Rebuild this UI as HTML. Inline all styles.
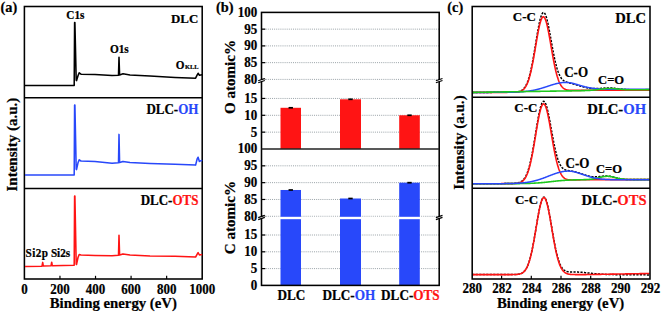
<!DOCTYPE html>
<html><head><meta charset="utf-8"><style>
html,body{margin:0;padding:0;background:#fff;width:661px;height:313px;overflow:hidden}
svg{display:block}
text{font-family:"Liberation Serif",serif;font-weight:bold;stroke-width:0.22;stroke-linejoin:round}
</style></head><body>
<svg width="661" height="313" viewBox="0 0 661 313">
<rect width="661" height="313" fill="#fff"/>
<text transform="translate(0.5,11.5) scale(1,1.05)" font-size="14.3" text-anchor="start" fill="#000" stroke="#000" >(a)</text>
<rect x="24.4" y="6.5" width="177.79999999999998" height="272.5" fill="none" stroke="#000" stroke-width="1.55"/>
<line x1="24.4" y1="97.7" x2="202.2" y2="97.7" stroke="#000" stroke-width="1.55" />
<line x1="24.4" y1="188.5" x2="202.2" y2="188.5" stroke="#000" stroke-width="1.55" />
<text transform="translate(24.4,294) scale(1,1.05)" font-size="13" text-anchor="middle" fill="#000" stroke="#000" >0</text>
<line x1="59.959999999999994" y1="279.0" x2="59.959999999999994" y2="275.8" stroke="#000" stroke-width="1.2" />
<text transform="translate(59.959999999999994,294) scale(1,1.05)" font-size="13" text-anchor="middle" fill="#000" stroke="#000" >200</text>
<line x1="95.51999999999998" y1="279.0" x2="95.51999999999998" y2="275.8" stroke="#000" stroke-width="1.2" />
<text transform="translate(95.51999999999998,294) scale(1,1.05)" font-size="13" text-anchor="middle" fill="#000" stroke="#000" >400</text>
<line x1="131.07999999999998" y1="279.0" x2="131.07999999999998" y2="275.8" stroke="#000" stroke-width="1.2" />
<text transform="translate(131.07999999999998,294) scale(1,1.05)" font-size="13" text-anchor="middle" fill="#000" stroke="#000" >600</text>
<line x1="166.64" y1="279.0" x2="166.64" y2="275.8" stroke="#000" stroke-width="1.2" />
<text transform="translate(166.64,294) scale(1,1.05)" font-size="13" text-anchor="middle" fill="#000" stroke="#000" >800</text>
<text transform="translate(202.2,294) scale(1,1.05)" font-size="13" text-anchor="middle" fill="#000" stroke="#000" >1000</text>
<text transform="translate(113.3,308.3) scale(1,1.05)" font-size="14.8" text-anchor="middle" fill="#000" stroke="#000" >Binding energy (eV)</text>
<text x="0" y="0" font-size="15" text-anchor="middle" fill="#000" stroke="#000" transform="translate(17.0,144.6) rotate(-90)">Intensity (a.u.)</text>
<path d="M25.00,85.40 L74.20,85.40 L74.60,22.40 L74.90,22.40 L76.20,80.20 L76.50,80.70 L78.00,75.80 L79.20,72.80 L81.00,74.20 L95.00,74.60 L112.00,75.60 L118.50,75.20 L119.00,57.20 L119.60,75.00 L123.00,73.80 L130.00,74.90 L150.00,76.10 L175.00,77.40 L195.60,78.20 L197.20,74.90 L198.10,73.30 L199.40,75.20 L202.20,74.70" fill="none" stroke="#000" stroke-width="1.55" stroke-linejoin="round" />
<path d="M25.00,174.90 L74.20,174.90 L74.60,105.10 L74.90,105.10 L76.20,169.10 L76.50,169.60 L78.00,162.80 L79.20,159.80 L81.00,161.00 L95.00,161.40 L112.00,163.20 L118.50,162.80 L119.00,134.40 L119.60,162.60 L123.00,161.40 L130.00,162.50 L150.00,163.40 L175.00,164.30 L195.60,165.10 L197.20,158.80 L198.10,157.20 L199.40,161.40 L202.20,160.20" fill="none" stroke="#2848fa" stroke-width="1.55" stroke-linejoin="round" />
<path d="M25.00,266.60 L42.00,266.20 L42.70,262.40 L43.30,266.00 L51.00,265.80 L51.70,262.20 L52.30,265.70 L74.20,265.20 L74.60,195.90 L74.90,195.90 L76.20,264.00 L76.50,264.50 L78.00,257.50 L79.20,254.50 L81.00,255.00 L95.00,255.40 L112.00,255.70 L118.50,255.30 L119.00,235.30 L119.60,255.10 L123.00,253.90 L130.00,255.00 L150.00,256.00 L175.00,256.20 L195.60,257.00 L197.20,254.20 L198.10,252.60 L199.40,255.00 L202.20,254.60" fill="none" stroke="#ff1414" stroke-width="1.55" stroke-linejoin="round" />
<text transform="translate(75.4,19.3) scale(1,1.1)" font-size="11.3" text-anchor="middle" fill="#000" stroke="#000" >C1s</text>
<text transform="translate(119.3,52.6) scale(1,1.05)" font-size="11.3" text-anchor="middle" fill="#000" stroke="#000" >O1s</text>
<text transform="translate(175.8,68.5) scale(1,1.05)" font-size="11.2" text-anchor="start" fill="#000" stroke="#000" >O<tspan font-size="6.4" dx="0.5">KLL</tspan></text>
<text transform="translate(198.2,23) scale(1,1.0)" font-size="12.9" text-anchor="end" fill="#000" stroke="#000" >DLC</text>
<text transform="translate(198.4,113.9) scale(1,1.05)" font-size="13" text-anchor="end" fill="#000" stroke="#000" >DLC-<tspan fill="#2848fa" stroke="#2848fa">OH</tspan></text>
<text transform="translate(198.4,204.8) scale(1,1.05)" font-size="13" text-anchor="end" fill="#000" stroke="#000" >DLC-<tspan fill="#ff1414" stroke="#ff1414">OTS</tspan></text>
<text transform="translate(25.6,257.2) scale(1,1.05)" font-size="11.2" text-anchor="start" fill="#000" stroke="#000" letter-spacing="0.4">Si2p</text>
<text transform="translate(50.9,257.2) scale(1,1.05)" font-size="11.2" text-anchor="start" fill="#000" stroke="#000" >Si2s</text>
<text transform="translate(216,11.6) scale(1,1.05)" font-size="14.4" text-anchor="start" fill="#000" stroke="#000" >(b)</text>
<line x1="261.5" y1="29.15" x2="439.2" y2="29.15" stroke="#9aa3a8" stroke-width="1.0" stroke-dasharray="1,1.1"/>
<line x1="261.5" y1="29.15" x2="265.3" y2="29.15" stroke="#000" stroke-width="1.2" />
<line x1="261.5" y1="45.9" x2="439.2" y2="45.9" stroke="#9aa3a8" stroke-width="1.0" stroke-dasharray="1,1.1"/>
<line x1="261.5" y1="45.9" x2="265.3" y2="45.9" stroke="#000" stroke-width="1.2" />
<line x1="261.5" y1="62.65" x2="439.2" y2="62.65" stroke="#9aa3a8" stroke-width="1.0" stroke-dasharray="1,1.1"/>
<line x1="261.5" y1="62.65" x2="265.3" y2="62.65" stroke="#000" stroke-width="1.2" />
<line x1="261.5" y1="79.4" x2="439.2" y2="79.4" stroke="#9aa3a8" stroke-width="1.0" stroke-dasharray="1,1.1"/>
<line x1="261.5" y1="79.4" x2="265.3" y2="79.4" stroke="#000" stroke-width="1.2" />
<line x1="261.5" y1="98.44999999999999" x2="439.2" y2="98.44999999999999" stroke="#9aa3a8" stroke-width="1.0" stroke-dasharray="1,1.1"/>
<line x1="261.5" y1="98.44999999999999" x2="265.3" y2="98.44999999999999" stroke="#000" stroke-width="1.2" />
<line x1="261.5" y1="115.3" x2="439.2" y2="115.3" stroke="#9aa3a8" stroke-width="1.0" stroke-dasharray="1,1.1"/>
<line x1="261.5" y1="115.3" x2="265.3" y2="115.3" stroke="#000" stroke-width="1.2" />
<line x1="261.5" y1="132.15" x2="439.2" y2="132.15" stroke="#9aa3a8" stroke-width="1.0" stroke-dasharray="1,1.1"/>
<line x1="261.5" y1="132.15" x2="265.3" y2="132.15" stroke="#000" stroke-width="1.2" />
<line x1="261.5" y1="165.825" x2="439.2" y2="165.825" stroke="#9aa3a8" stroke-width="1.0" stroke-dasharray="1,1.1"/>
<line x1="261.5" y1="165.825" x2="265.3" y2="165.825" stroke="#000" stroke-width="1.2" />
<line x1="261.5" y1="182.65" x2="439.2" y2="182.65" stroke="#9aa3a8" stroke-width="1.0" stroke-dasharray="1,1.1"/>
<line x1="261.5" y1="182.65" x2="265.3" y2="182.65" stroke="#000" stroke-width="1.2" />
<line x1="261.5" y1="199.475" x2="439.2" y2="199.475" stroke="#9aa3a8" stroke-width="1.0" stroke-dasharray="1,1.1"/>
<line x1="261.5" y1="199.475" x2="265.3" y2="199.475" stroke="#000" stroke-width="1.2" />
<line x1="261.5" y1="216.3" x2="439.2" y2="216.3" stroke="#9aa3a8" stroke-width="1.0" stroke-dasharray="1,1.1"/>
<line x1="261.5" y1="216.3" x2="265.3" y2="216.3" stroke="#000" stroke-width="1.2" />
<line x1="261.5" y1="234.99999999999997" x2="439.2" y2="234.99999999999997" stroke="#9aa3a8" stroke-width="1.0" stroke-dasharray="1,1.1"/>
<line x1="261.5" y1="234.99999999999997" x2="265.3" y2="234.99999999999997" stroke="#000" stroke-width="1.2" />
<line x1="261.5" y1="251.79999999999998" x2="439.2" y2="251.79999999999998" stroke="#9aa3a8" stroke-width="1.0" stroke-dasharray="1,1.1"/>
<line x1="261.5" y1="251.79999999999998" x2="265.3" y2="251.79999999999998" stroke="#000" stroke-width="1.2" />
<line x1="261.5" y1="268.59999999999997" x2="439.2" y2="268.59999999999997" stroke="#9aa3a8" stroke-width="1.0" stroke-dasharray="1,1.1"/>
<line x1="261.5" y1="268.59999999999997" x2="265.3" y2="268.59999999999997" stroke="#000" stroke-width="1.2" />
<rect x="280.5" y="107.7849" width="20.5" height="41.21510000000001" fill="#ff1414"/>
<line x1="288.55" y1="107.7849" x2="292.95" y2="107.7849" stroke="#000" stroke-width="1.7" />
<rect x="340.0" y="99.29249999999999" width="21.0" height="49.70750000000001" fill="#ff1414"/>
<line x1="348.3" y1="99.29249999999999" x2="352.7" y2="99.29249999999999" stroke="#000" stroke-width="1.7" />
<rect x="399.2" y="115.2663" width="20.600000000000023" height="33.7337" fill="#ff1414"/>
<line x1="407.3" y1="115.2663" x2="411.7" y2="115.2663" stroke="#000" stroke-width="1.7" />
<rect x="280.5" y="189.9857" width="20.5" height="95.41429999999997" fill="#2848fa"/>
<line x1="288.55" y1="189.9857" x2="292.95" y2="189.9857" stroke="#000" stroke-width="1.7" />
<rect x="340.0" y="198.49915" width="21.0" height="86.90084999999999" fill="#2848fa"/>
<line x1="348.3" y1="198.49915" x2="352.7" y2="198.49915" stroke="#000" stroke-width="1.7" />
<rect x="399.2" y="182.68365000000003" width="20.600000000000023" height="102.71634999999995" fill="#2848fa"/>
<line x1="407.3" y1="182.68365000000003" x2="411.7" y2="182.68365000000003" stroke="#000" stroke-width="1.7" />
<rect x="275" y="216.8" width="150" height="2.4" fill="#fff"/>
<rect x="261.5" y="12.4" width="177.7" height="273.0" fill="none" stroke="#000" stroke-width="1.55"/>
<line x1="261.5" y1="149.0" x2="439.2" y2="149.0" stroke="#222" stroke-width="1.6" />
<polygon points="258.3,82.50000000000001 264.7,80.30000000000001 264.7,78.7 258.3,80.9" fill="#fff"/>
<line x1="258.2" y1="80.7" x2="264.8" y2="78.50000000000001" stroke="#000" stroke-width="1.2" />
<line x1="258.2" y1="82.7" x2="264.8" y2="80.50000000000001" stroke="#000" stroke-width="1.2" />
<polygon points="436.0,82.50000000000001 442.4,80.30000000000001 442.4,78.7 436.0,80.9" fill="#fff"/>
<line x1="435.9" y1="80.7" x2="442.5" y2="78.50000000000001" stroke="#000" stroke-width="1.2" />
<line x1="435.9" y1="82.7" x2="442.5" y2="80.50000000000001" stroke="#000" stroke-width="1.2" />
<polygon points="258.3,219.4 264.7,217.2 264.7,215.6 258.3,217.8" fill="#fff"/>
<line x1="258.2" y1="217.6" x2="264.8" y2="215.4" stroke="#000" stroke-width="1.2" />
<line x1="258.2" y1="219.6" x2="264.8" y2="217.4" stroke="#000" stroke-width="1.2" />
<polygon points="436.0,219.4 442.4,217.2 442.4,215.6 436.0,217.8" fill="#fff"/>
<line x1="435.9" y1="217.6" x2="442.5" y2="215.4" stroke="#000" stroke-width="1.2" />
<line x1="435.9" y1="219.6" x2="442.5" y2="217.4" stroke="#000" stroke-width="1.2" />
<text transform="translate(257.3,16.8) scale(1,1.05)" font-size="13" text-anchor="end" fill="#000" stroke="#000" >100</text>
<text transform="translate(257.3,33.55) scale(1,1.05)" font-size="13" text-anchor="end" fill="#000" stroke="#000" >95</text>
<text transform="translate(257.3,50.3) scale(1,1.05)" font-size="13" text-anchor="end" fill="#000" stroke="#000" >90</text>
<text transform="translate(257.3,67.05) scale(1,1.05)" font-size="13" text-anchor="end" fill="#000" stroke="#000" >85</text>
<text transform="translate(257.3,83.80000000000001) scale(1,1.05)" font-size="13" text-anchor="end" fill="#000" stroke="#000" >80</text>
<text transform="translate(257.3,102.85) scale(1,1.05)" font-size="13" text-anchor="end" fill="#000" stroke="#000" >15</text>
<text transform="translate(257.3,119.7) scale(1,1.05)" font-size="13" text-anchor="end" fill="#000" stroke="#000" >10</text>
<text transform="translate(257.3,136.55) scale(1,1.05)" font-size="13" text-anchor="end" fill="#000" stroke="#000" >5</text>
<text transform="translate(257.3,153.4) scale(1,1.05)" font-size="13" text-anchor="end" fill="#000" stroke="#000" >100</text>
<text transform="translate(257.3,170.225) scale(1,1.05)" font-size="13" text-anchor="end" fill="#000" stroke="#000" >95</text>
<text transform="translate(257.3,187.05) scale(1,1.05)" font-size="13" text-anchor="end" fill="#000" stroke="#000" >90</text>
<text transform="translate(257.3,203.875) scale(1,1.05)" font-size="13" text-anchor="end" fill="#000" stroke="#000" >85</text>
<text transform="translate(257.3,220.70000000000002) scale(1,1.05)" font-size="13" text-anchor="end" fill="#000" stroke="#000" >80</text>
<text transform="translate(257.3,239.39999999999998) scale(1,1.05)" font-size="13" text-anchor="end" fill="#000" stroke="#000" >15</text>
<text transform="translate(257.3,256.2) scale(1,1.05)" font-size="13" text-anchor="end" fill="#000" stroke="#000" >10</text>
<text transform="translate(257.3,272.99999999999994) scale(1,1.05)" font-size="13" text-anchor="end" fill="#000" stroke="#000" >5</text>
<text transform="translate(257.3,289.79999999999995) scale(1,1.05)" font-size="13" text-anchor="end" fill="#000" stroke="#000" >0</text>
<text x="0" y="0" font-size="15.1" text-anchor="middle" fill="#000" stroke="#000" transform="translate(235.2,77) rotate(-90)">O atomic%</text>
<text x="0" y="0" font-size="15.1" text-anchor="middle" fill="#000" stroke="#000" transform="translate(235.2,217.6) rotate(-90)">C atomic%</text>
<text transform="translate(291.4,300.0) scale(1,1.03)" font-size="13.2" text-anchor="middle" fill="#000" stroke="#000" >DLC</text>
<text transform="translate(348.8,300.0) scale(1,1.03)" font-size="13.2" text-anchor="middle" fill="#000" stroke="#000" >DLC-<tspan fill="#2848fa" stroke="#2848fa">OH</tspan></text>
<text transform="translate(410.4,300.0) scale(1,1.03)" font-size="13.2" text-anchor="middle" fill="#000" stroke="#000" >DLC-<tspan fill="#ff1414" stroke="#ff1414">OTS</tspan></text>
<text transform="translate(447.3,12.1) scale(1,1.05)" font-size="14.3" text-anchor="start" fill="#000" stroke="#000" >(c)</text>
<text transform="translate(472.29999999999995,293.4) scale(1,1.05)" font-size="13" text-anchor="middle" fill="#000" stroke="#000" >280</text>
<line x1="501.59999999999997" y1="279.0" x2="501.59999999999997" y2="275.8" stroke="#000" stroke-width="1.2" />
<text transform="translate(501.99999999999994,293.4) scale(1,1.05)" font-size="13" text-anchor="middle" fill="#000" stroke="#000" >282</text>
<line x1="531.3" y1="279.0" x2="531.3" y2="275.8" stroke="#000" stroke-width="1.2" />
<text transform="translate(531.6999999999999,293.4) scale(1,1.05)" font-size="13" text-anchor="middle" fill="#000" stroke="#000" >284</text>
<line x1="561.0" y1="279.0" x2="561.0" y2="275.8" stroke="#000" stroke-width="1.2" />
<text transform="translate(561.4,293.4) scale(1,1.05)" font-size="13" text-anchor="middle" fill="#000" stroke="#000" >286</text>
<line x1="590.6999999999999" y1="279.0" x2="590.6999999999999" y2="275.8" stroke="#000" stroke-width="1.2" />
<text transform="translate(591.0999999999999,293.4) scale(1,1.05)" font-size="13" text-anchor="middle" fill="#000" stroke="#000" >288</text>
<line x1="620.4" y1="279.0" x2="620.4" y2="275.8" stroke="#000" stroke-width="1.2" />
<text transform="translate(620.8,293.4) scale(1,1.05)" font-size="13" text-anchor="middle" fill="#000" stroke="#000" >290</text>
<text transform="translate(650.4999999999999,293.4) scale(1,1.05)" font-size="13" text-anchor="middle" fill="#000" stroke="#000" >292</text>
<text transform="translate(560.6,307.8) scale(1,1.05)" font-size="14.8" text-anchor="middle" fill="#000" stroke="#000" >Binding energy (eV)</text>
<text x="0" y="0" font-size="15.1" text-anchor="middle" fill="#000" stroke="#000" transform="translate(464.3,142.5) rotate(-90)">Intensity (a.u.)</text>
<path d="M472.20,92.40 L472.70,92.40 L473.20,92.39 L473.70,92.39 L474.20,92.39 L474.70,92.39 L475.20,92.39 L475.70,92.39 L476.20,92.39 L476.70,92.39 L477.20,92.39 L477.70,92.39 L478.20,92.39 L478.70,92.39 L479.20,92.39 L479.70,92.39 L480.20,92.39 L480.70,92.39 L481.20,92.39 L481.70,92.39 L482.20,92.39 L482.70,92.39 L483.20,92.39 L483.70,92.39 L484.20,92.39 L484.70,92.39 L485.20,92.39 L485.70,92.39 L486.20,92.38 L486.70,92.38 L487.20,92.38 L487.70,92.38 L488.20,92.38 L488.70,92.38 L489.20,92.38 L489.70,92.38 L490.20,92.38 L490.70,92.38 L491.20,92.38 L491.70,92.38 L492.20,92.37 L492.70,92.37 L493.20,92.37 L493.70,92.37 L494.20,92.37 L494.70,92.37 L495.20,92.37 L495.70,92.37 L496.20,92.36 L496.70,92.36 L497.20,92.36 L497.70,92.36 L498.20,92.36 L498.70,92.35 L499.20,92.35 L499.70,92.35 L500.20,92.35 L500.70,92.34 L501.20,92.34 L501.70,92.34 L502.20,92.33 L502.70,92.33 L503.20,92.33 L503.70,92.32 L504.20,92.32 L504.70,92.32 L505.20,92.31 L505.70,92.31 L506.20,92.30 L506.70,92.29 L507.20,92.29 L507.70,92.28 L508.20,92.27 L508.70,92.27 L509.20,92.26 L509.70,92.25 L510.20,92.24 L510.70,92.23 L511.20,92.21 L511.70,92.20 L512.20,92.18 L512.70,92.16 L513.20,92.14 L513.70,92.12 L514.20,92.09 L514.70,92.06 L515.20,92.02 L515.70,91.98 L516.20,91.93 L516.70,91.87 L517.20,91.80 L517.70,91.72 L518.20,91.62 L518.70,91.51 L519.20,91.37 L519.70,91.22 L520.20,91.04 L520.70,90.83 L521.20,90.58 L521.70,90.30 L522.20,89.97 L522.70,89.59 L523.20,89.15 L523.70,88.65 L524.20,88.08 L524.70,87.43 L525.20,86.70 L525.70,85.87 L526.20,84.94 L526.70,83.90 L527.20,82.75 L527.70,81.48 L528.20,80.07 L528.70,78.53 L529.20,76.86 L529.70,75.04 L530.20,73.07 L530.70,70.96 L531.20,68.72 L531.70,66.33 L532.20,63.81 L532.70,61.17 L533.20,58.41 L533.70,55.56 L534.20,52.62 L534.70,49.62 L535.20,46.57 L535.70,43.50 L536.20,40.43 L536.70,37.39 L537.20,34.41 L537.70,31.51 L538.20,28.72 L538.70,26.08 L539.20,23.60 L539.70,21.31 L540.20,19.24 L540.70,17.42 L541.20,15.86 L541.70,14.58 L542.20,13.59 L542.70,12.91 L543.20,12.54 L543.70,12.48 L544.20,12.74 L544.70,13.30 L545.20,14.17 L545.70,15.32 L546.20,16.75 L546.70,18.42 L547.20,20.33 L547.70,22.45 L548.20,24.75 L548.70,27.20 L549.20,29.78 L549.70,32.45 L550.20,35.20 L550.70,37.99 L551.20,40.80 L551.70,43.61 L552.20,46.38 L552.70,49.10 L553.20,51.75 L553.70,54.32 L554.20,56.78 L554.70,59.13 L555.20,61.36 L555.70,63.46 L556.20,65.43 L556.70,67.26 L557.20,68.95 L557.70,70.51 L558.20,71.94 L558.70,73.24 L559.20,74.42 L559.70,75.48 L560.20,76.43 L560.70,77.28 L561.20,78.03 L561.70,78.70 L562.20,79.28 L562.70,79.80 L563.20,80.25 L563.70,80.64 L564.20,80.98 L564.70,81.28 L565.20,81.54 L565.70,81.77 L566.20,81.97 L566.70,82.16 L567.20,82.33 L567.70,82.48 L568.20,82.63 L568.70,82.77 L569.20,82.90 L569.70,83.03 L570.20,83.16 L570.70,83.28 L571.20,83.41 L571.70,83.54 L572.20,83.67 L572.70,83.80 L573.20,83.93 L573.70,84.07 L574.20,84.21 L574.70,84.35 L575.20,84.50 L575.70,84.65 L576.20,84.79 L576.70,84.94 L577.20,85.10 L577.70,85.25 L578.20,85.40 L578.70,85.55 L579.20,85.71 L579.70,85.86 L580.20,86.01 L580.70,86.16 L581.20,86.30 L581.70,86.45 L582.20,86.59 L582.70,86.73 L583.20,86.87 L583.70,87.00 L584.20,87.13 L584.70,87.26 L585.20,87.38 L585.70,87.49 L586.20,87.60 L586.70,87.71 L587.20,87.81 L587.70,87.91 L588.20,88.00 L588.70,88.08 L589.20,88.16 L589.70,88.23 L590.20,88.30 L590.70,88.36 L591.20,88.41 L591.70,88.46 L592.20,88.50 L592.70,88.54 L593.20,88.57 L593.70,88.59 L594.20,88.61 L594.70,88.62 L595.20,88.63 L595.70,88.63 L596.20,88.62 L596.70,88.61 L597.20,88.60 L597.70,88.58 L598.20,88.55 L598.70,88.53 L599.20,88.50 L599.70,88.47 L600.20,88.43 L600.70,88.39 L601.20,88.36 L601.70,88.32 L602.20,88.28 L602.70,88.24 L603.20,88.20 L603.70,88.16 L604.20,88.13 L604.70,88.10 L605.20,88.07 L605.70,88.04 L606.20,88.02 L606.70,88.00 L607.20,87.98 L607.70,87.97 L608.20,87.97 L608.70,87.97 L609.20,87.97 L609.70,87.98 L610.20,87.99 L610.70,88.01 L611.20,88.04 L611.70,88.07 L612.20,88.10 L612.70,88.14 L613.20,88.18 L613.70,88.22 L614.20,88.27 L614.70,88.33 L615.20,88.38 L615.70,88.44 L616.20,88.49 L616.70,88.55 L617.20,88.61 L617.70,88.67 L618.20,88.74 L618.70,88.80 L619.20,88.86 L619.70,88.92 L620.20,88.97 L620.70,89.03 L621.20,89.09 L621.70,89.14 L622.20,89.19 L622.70,89.24 L623.20,89.29 L623.70,89.33 L624.20,89.37 L624.70,89.41 L625.20,89.45 L625.70,89.48 L626.20,89.51 L626.70,89.54 L627.20,89.57 L627.70,89.60 L628.20,89.62 L628.70,89.64 L629.20,89.66 L629.70,89.67 L630.20,89.69 L630.70,89.70 L631.20,89.72 L631.70,89.73 L632.20,89.74 L632.70,89.75 L633.20,89.75 L633.70,89.76 L634.20,89.77 L634.70,89.77 L635.20,89.78 L635.70,89.78 L636.20,89.78 L636.70,89.79 L637.20,89.79 L637.70,89.79 L638.20,89.79 L638.70,89.79 L639.20,89.79 L639.70,89.80 L640.20,89.80 L640.70,89.80 L641.20,89.80 L641.70,89.80 L642.20,89.80 L642.70,89.80 L643.20,89.80 L643.70,89.80 L644.20,89.80 L644.70,89.80 L645.20,89.80 L645.70,89.80 L646.20,89.80 L646.70,89.80 L647.20,89.80 L647.70,89.80 L648.20,89.80 L648.70,89.80 L649.20,89.80 L649.70,89.80" fill="none" stroke="#000" stroke-width="1.5" stroke-linejoin="round" stroke-dasharray="2.2,1.3"/>
<path d="M472.20,92.40 L472.70,92.40 L473.20,92.40 L473.70,92.40 L474.20,92.40 L474.70,92.40 L475.20,92.39 L475.70,92.39 L476.20,92.39 L476.70,92.39 L477.20,92.39 L477.70,92.39 L478.20,92.39 L478.70,92.39 L479.20,92.39 L479.70,92.39 L480.20,92.39 L480.70,92.39 L481.20,92.39 L481.70,92.39 L482.20,92.39 L482.70,92.39 L483.20,92.39 L483.70,92.39 L484.20,92.39 L484.70,92.39 L485.20,92.39 L485.70,92.39 L486.20,92.39 L486.70,92.39 L487.20,92.39 L487.70,92.39 L488.20,92.39 L488.70,92.38 L489.20,92.38 L489.70,92.38 L490.20,92.38 L490.70,92.38 L491.20,92.38 L491.70,92.38 L492.20,92.38 L492.70,92.38 L493.20,92.38 L493.70,92.38 L494.20,92.38 L494.70,92.37 L495.20,92.37 L495.70,92.37 L496.20,92.37 L496.70,92.37 L497.20,92.37 L497.70,92.37 L498.20,92.37 L498.70,92.36 L499.20,92.36 L499.70,92.36 L500.20,92.36 L500.70,92.36 L501.20,92.36 L501.70,92.35 L502.20,92.35 L502.70,92.35 L503.20,92.35 L503.70,92.35 L504.20,92.34 L504.70,92.34 L505.20,92.34 L505.70,92.34 L506.20,92.33 L506.70,92.33 L507.20,92.33 L507.70,92.32 L508.20,92.32 L508.70,92.32 L509.20,92.31 L509.70,92.31 L510.20,92.30 L510.70,92.30 L511.20,92.29 L511.70,92.28 L512.20,92.27 L512.70,92.26 L513.20,92.25 L513.70,92.23 L514.20,92.22 L514.70,92.20 L515.20,92.17 L515.70,92.14 L516.20,92.10 L516.70,92.06 L517.20,92.00 L517.70,91.94 L518.20,91.86 L518.70,91.77 L519.20,91.66 L519.70,91.53 L520.20,91.37 L520.70,91.19 L521.20,90.97 L521.70,90.72 L522.20,90.42 L522.70,90.08 L523.20,89.68 L523.70,89.21 L524.20,88.69 L524.70,88.08 L525.20,87.40 L525.70,86.62 L526.20,85.74 L526.70,84.76 L527.20,83.67 L527.70,82.46 L528.20,81.12 L528.70,79.65 L529.20,78.04 L529.70,76.30 L530.20,74.41 L530.70,72.38 L531.20,70.22 L531.70,67.92 L532.20,65.49 L532.70,62.94 L533.20,60.28 L533.70,57.52 L534.20,54.69 L534.70,51.79 L535.20,48.85 L535.70,45.89 L536.20,42.94 L536.70,40.01 L537.20,37.15 L537.70,34.36 L538.20,31.70 L538.70,29.17 L539.20,26.81 L539.70,24.65 L540.20,22.71 L540.70,21.02 L541.20,19.58 L541.70,18.43 L542.20,17.57 L542.70,17.01 L543.20,16.77 L543.70,16.84 L544.20,17.23 L544.70,17.92 L545.20,18.92 L545.70,20.20 L546.20,21.75 L546.70,23.55 L547.20,25.58 L547.70,27.82 L548.20,30.24 L548.70,32.81 L549.20,35.51 L549.70,38.30 L550.20,41.17 L550.70,44.07 L551.20,46.99 L551.70,49.90 L552.20,52.78 L552.70,55.61 L553.20,58.36 L553.70,61.02 L554.20,63.58 L554.70,66.02 L555.20,68.33 L555.70,70.52 L556.20,72.57 L556.70,74.47 L557.20,76.24 L557.70,77.87 L558.20,79.36 L558.70,80.72 L559.20,81.96 L559.70,83.07 L560.20,84.06 L560.70,84.95 L561.20,85.74 L561.70,86.43 L562.20,87.04 L562.70,87.57 L563.20,88.03 L563.70,88.43 L564.20,88.77 L564.70,89.07 L565.20,89.31 L565.70,89.52 L566.20,89.70 L566.70,89.84 L567.20,89.96 L567.70,90.06 L568.20,90.14 L568.70,90.21 L569.20,90.26 L569.70,90.30 L570.20,90.33 L570.70,90.36 L571.20,90.37 L571.70,90.38 L572.20,90.39 L572.70,90.40 L573.20,90.40 L573.70,90.40 L574.20,90.40 L574.70,90.40 L575.20,90.39 L575.70,90.39 L576.20,90.38 L576.70,90.38 L577.20,90.37 L577.70,90.37 L578.20,90.36 L578.70,90.36 L579.20,90.35 L579.70,90.35 L580.20,90.34 L580.70,90.33 L581.20,90.33 L581.70,90.32 L582.20,90.32 L582.70,90.32 L583.20,90.31 L583.70,90.31 L584.20,90.30 L584.70,90.30 L585.20,90.29 L585.70,90.29 L586.20,90.29 L586.70,90.28 L587.20,90.28 L587.70,90.28 L588.20,90.27 L588.70,90.27 L589.20,90.27 L589.70,90.27 L590.20,90.26 L590.70,90.26 L591.20,90.26 L591.70,90.26 L592.20,90.25 L592.70,90.25 L593.20,90.25 L593.70,90.25 L594.20,90.25 L594.70,90.24 L595.20,90.24 L595.70,90.24 L596.20,90.24 L596.70,90.24 L597.20,90.24 L597.70,90.23 L598.20,90.23 L598.70,90.23 L599.20,90.23 L599.70,90.23 L600.20,90.23 L600.70,90.23 L601.20,90.23 L601.70,90.22 L602.20,90.22 L602.70,90.22 L603.20,90.22 L603.70,90.22 L604.20,90.22 L604.70,90.22 L605.20,90.22 L605.70,90.22 L606.20,90.22 L606.70,90.22 L607.20,90.22 L607.70,90.22 L608.20,90.21 L608.70,90.21 L609.20,90.21 L609.70,90.21 L610.20,90.21 L610.70,90.21 L611.20,90.21 L611.70,90.21 L612.20,90.21 L612.70,90.21 L613.20,90.21 L613.70,90.21 L614.20,90.21 L614.70,90.21 L615.20,90.21 L615.70,90.21 L616.20,90.21 L616.70,90.21 L617.20,90.21 L617.70,90.21 L618.20,90.21 L618.70,90.21 L619.20,90.21 L619.70,90.21 L620.20,90.21 L620.70,90.21 L621.20,90.20 L621.70,90.20 L622.20,90.20 L622.70,90.20 L623.20,90.20 L623.70,90.20 L624.20,90.20 L624.70,90.20 L625.20,90.20 L625.70,90.20 L626.20,90.20 L626.70,90.20 L627.20,90.20 L627.70,90.20 L628.20,90.20 L628.70,90.20 L629.20,90.20 L629.70,90.20 L630.20,90.20 L630.70,90.20 L631.20,90.20 L631.70,90.20 L632.20,90.20 L632.70,90.20 L633.20,90.20 L633.70,90.20 L634.20,90.20 L634.70,90.20 L635.20,90.20 L635.70,90.20 L636.20,90.20 L636.70,90.20 L637.20,90.20 L637.70,90.20 L638.20,90.20 L638.70,90.20 L639.20,90.20 L639.70,90.20 L640.20,90.20 L640.70,90.20 L641.20,90.20 L641.70,90.20 L642.20,90.20 L642.70,90.20 L643.20,90.20 L643.70,90.20 L644.20,90.20 L644.70,90.20 L645.20,90.20 L645.70,90.20 L646.20,90.20 L646.70,90.20 L647.20,90.20 L647.70,90.20 L648.20,90.20 L648.70,90.20 L649.20,90.20 L649.70,90.20" fill="none" stroke="#ff1414" stroke-width="1.6" stroke-linejoin="round" />
<path d="M472.20,92.39 L472.70,92.39 L473.20,92.39 L473.70,92.39 L474.20,92.39 L474.70,92.39 L475.20,92.39 L475.70,92.39 L476.20,92.39 L476.70,92.39 L477.20,92.39 L477.70,92.39 L478.20,92.39 L478.70,92.39 L479.20,92.39 L479.70,92.39 L480.20,92.39 L480.70,92.39 L481.20,92.39 L481.70,92.39 L482.20,92.39 L482.70,92.39 L483.20,92.39 L483.70,92.38 L484.20,92.38 L484.70,92.38 L485.20,92.38 L485.70,92.38 L486.20,92.38 L486.70,92.38 L487.20,92.38 L487.70,92.38 L488.20,92.38 L488.70,92.38 L489.20,92.38 L489.70,92.37 L490.20,92.37 L490.70,92.37 L491.20,92.37 L491.70,92.37 L492.20,92.37 L492.70,92.37 L493.20,92.37 L493.70,92.36 L494.20,92.36 L494.70,92.36 L495.20,92.36 L495.70,92.36 L496.20,92.36 L496.70,92.35 L497.20,92.35 L497.70,92.35 L498.20,92.35 L498.70,92.34 L499.20,92.34 L499.70,92.34 L500.20,92.34 L500.70,92.33 L501.20,92.33 L501.70,92.33 L502.20,92.32 L502.70,92.32 L503.20,92.31 L503.70,92.31 L504.20,92.31 L504.70,92.30 L505.20,92.30 L505.70,92.29 L506.20,92.28 L506.70,92.28 L507.20,92.27 L507.70,92.26 L508.20,92.26 L508.70,92.25 L509.20,92.24 L509.70,92.23 L510.20,92.22 L510.70,92.21 L511.20,92.20 L511.70,92.19 L512.20,92.18 L512.70,92.17 L513.20,92.16 L513.70,92.14 L514.20,92.13 L514.70,92.11 L515.20,92.09 L515.70,92.08 L516.20,92.06 L516.70,92.04 L517.20,92.02 L517.70,92.00 L518.20,91.97 L518.70,91.95 L519.20,91.92 L519.70,91.89 L520.20,91.86 L520.70,91.83 L521.20,91.80 L521.70,91.77 L522.20,91.73 L522.70,91.69 L523.20,91.65 L523.70,91.61 L524.20,91.57 L524.70,91.52 L525.20,91.47 L525.70,91.42 L526.20,91.37 L526.70,91.31 L527.20,91.25 L527.70,91.19 L528.20,91.13 L528.70,91.06 L529.20,90.99 L529.70,90.92 L530.20,90.84 L530.70,90.76 L531.20,90.68 L531.70,90.60 L532.20,90.51 L532.70,90.41 L533.20,90.32 L533.70,90.22 L534.20,90.12 L534.70,90.01 L535.20,89.91 L535.70,89.79 L536.20,89.68 L536.70,89.56 L537.20,89.44 L537.70,89.31 L538.20,89.18 L538.70,89.05 L539.20,88.92 L539.70,88.78 L540.20,88.64 L540.70,88.49 L541.20,88.35 L541.70,88.20 L542.20,88.05 L542.70,87.90 L543.20,87.74 L543.70,87.58 L544.20,87.42 L544.70,87.26 L545.20,87.10 L545.70,86.94 L546.20,86.77 L546.70,86.61 L547.20,86.44 L547.70,86.28 L548.20,86.11 L548.70,85.95 L549.20,85.78 L549.70,85.62 L550.20,85.46 L550.70,85.30 L551.20,85.14 L551.70,84.98 L552.20,84.83 L552.70,84.67 L553.20,84.53 L553.70,84.38 L554.20,84.24 L554.70,84.10 L555.20,83.96 L555.70,83.83 L556.20,83.71 L556.70,83.58 L557.20,83.47 L557.70,83.36 L558.20,83.25 L558.70,83.15 L559.20,83.05 L559.70,82.97 L560.20,82.88 L560.70,82.81 L561.20,82.74 L561.70,82.67 L562.20,82.62 L562.70,82.57 L563.20,82.53 L563.70,82.49 L564.20,82.46 L564.70,82.44 L565.20,82.43 L565.70,82.42 L566.20,82.43 L566.70,82.45 L567.20,82.47 L567.70,82.51 L568.20,82.56 L568.70,82.61 L569.20,82.67 L569.70,82.74 L570.20,82.82 L570.70,82.91 L571.20,83.01 L571.70,83.11 L572.20,83.21 L572.70,83.33 L573.20,83.45 L573.70,83.57 L574.20,83.70 L574.70,83.84 L575.20,83.97 L575.70,84.12 L576.20,84.26 L576.70,84.41 L577.20,84.55 L577.70,84.70 L578.20,84.85 L578.70,85.01 L579.20,85.16 L579.70,85.31 L580.20,85.46 L580.70,85.61 L581.20,85.76 L581.70,85.90 L582.20,86.05 L582.70,86.19 L583.20,86.33 L583.70,86.47 L584.20,86.60 L584.70,86.73 L585.20,86.86 L585.70,86.98 L586.20,87.10 L586.70,87.22 L587.20,87.33 L587.70,87.44 L588.20,87.54 L588.70,87.64 L589.20,87.74 L589.70,87.83 L590.20,87.92 L590.70,88.00 L591.20,88.08 L591.70,88.16 L592.20,88.23 L592.70,88.30 L593.20,88.37 L593.70,88.43 L594.20,88.49 L594.70,88.54 L595.20,88.59 L595.70,88.64 L596.20,88.69 L596.70,88.73 L597.20,88.77 L597.70,88.81 L598.20,88.84 L598.70,88.87 L599.20,88.90 L599.70,88.93 L600.20,88.95 L600.70,88.98 L601.20,89.00 L601.70,89.02 L602.20,89.04 L602.70,89.05 L603.20,89.07 L603.70,89.08 L604.20,89.10 L604.70,89.11 L605.20,89.12 L605.70,89.13 L606.20,89.14 L606.70,89.15 L607.20,89.15 L607.70,89.16 L608.20,89.16 L608.70,89.17 L609.20,89.17 L609.70,89.18 L610.20,89.18 L610.70,89.19 L611.20,89.19 L611.70,89.19 L612.20,89.19 L612.70,89.19 L613.20,89.20 L613.70,89.20 L614.20,89.20 L614.70,89.20 L615.20,89.20 L615.70,89.20 L616.20,89.20 L616.70,89.20 L617.20,89.20 L617.70,89.20 L618.20,89.20 L618.70,89.20 L619.20,89.20 L619.70,89.20 L620.20,89.21 L620.70,89.21 L621.20,89.21 L621.70,89.21 L622.20,89.21 L622.70,89.21 L623.20,89.20 L623.70,89.20 L624.20,89.20 L624.70,89.20 L625.20,89.20 L625.70,89.20 L626.20,89.20 L626.70,89.20 L627.20,89.20 L627.70,89.20 L628.20,89.20 L628.70,89.20 L629.20,89.20 L629.70,89.20 L630.20,89.20 L630.70,89.20 L631.20,89.20 L631.70,89.20 L632.20,89.20 L632.70,89.20 L633.20,89.20 L633.70,89.20 L634.20,89.20 L634.70,89.20 L635.20,89.20 L635.70,89.20 L636.20,89.20 L636.70,89.20 L637.20,89.20 L637.70,89.20 L638.20,89.20 L638.70,89.20 L639.20,89.20 L639.70,89.20 L640.20,89.20 L640.70,89.20 L641.20,89.20 L641.70,89.20 L642.20,89.20 L642.70,89.20 L643.20,89.20 L643.70,89.20 L644.20,89.20 L644.70,89.20 L645.20,89.20 L645.70,89.20 L646.20,89.20 L646.70,89.20 L647.20,89.20 L647.70,89.20 L648.20,89.20 L648.70,89.20 L649.20,89.20 L649.70,89.20" fill="none" stroke="#2848fa" stroke-width="1.5" stroke-linejoin="round" />
<path d="M472.20,92.40 L472.70,92.39 L473.20,92.38 L473.70,92.38 L474.20,92.37 L474.70,92.36 L475.20,92.35 L475.70,92.34 L476.20,92.34 L476.70,92.33 L477.20,92.32 L477.70,92.31 L478.20,92.31 L478.70,92.30 L479.20,92.29 L479.70,92.28 L480.20,92.27 L480.70,92.27 L481.20,92.26 L481.70,92.25 L482.20,92.24 L482.70,92.23 L483.20,92.23 L483.70,92.22 L484.20,92.21 L484.70,92.20 L485.20,92.20 L485.70,92.19 L486.20,92.18 L486.70,92.17 L487.20,92.16 L487.70,92.16 L488.20,92.15 L488.70,92.14 L489.20,92.13 L489.70,92.12 L490.20,92.12 L490.70,92.11 L491.20,92.10 L491.70,92.09 L492.20,92.09 L492.70,92.08 L493.20,92.07 L493.70,92.06 L494.20,92.05 L494.70,92.05 L495.20,92.04 L495.70,92.03 L496.20,92.02 L496.70,92.01 L497.20,92.01 L497.70,92.00 L498.20,91.99 L498.70,91.98 L499.20,91.97 L499.70,91.97 L500.20,91.96 L500.70,91.95 L501.20,91.94 L501.70,91.94 L502.20,91.93 L502.70,91.92 L503.20,91.91 L503.70,91.90 L504.20,91.90 L504.70,91.89 L505.20,91.88 L505.70,91.87 L506.20,91.86 L506.70,91.86 L507.20,91.85 L507.70,91.84 L508.20,91.83 L508.70,91.83 L509.20,91.82 L509.70,91.81 L510.20,91.80 L510.70,91.79 L511.20,91.79 L511.70,91.78 L512.20,91.77 L512.70,91.76 L513.20,91.75 L513.70,91.75 L514.20,91.74 L514.70,91.73 L515.20,91.72 L515.70,91.71 L516.20,91.71 L516.70,91.70 L517.20,91.69 L517.70,91.68 L518.20,91.68 L518.70,91.67 L519.20,91.66 L519.70,91.65 L520.20,91.64 L520.70,91.64 L521.20,91.63 L521.70,91.62 L522.20,91.61 L522.70,91.60 L523.20,91.60 L523.70,91.59 L524.20,91.58 L524.70,91.57 L525.20,91.57 L525.70,91.56 L526.20,91.55 L526.70,91.54 L527.20,91.53 L527.70,91.53 L528.20,91.52 L528.70,91.51 L529.20,91.50 L529.70,91.49 L530.20,91.49 L530.70,91.48 L531.20,91.47 L531.70,91.46 L532.20,91.46 L532.70,91.45 L533.20,91.44 L533.70,91.43 L534.20,91.42 L534.70,91.42 L535.20,91.41 L535.70,91.40 L536.20,91.39 L536.70,91.38 L537.20,91.38 L537.70,91.37 L538.20,91.36 L538.70,91.35 L539.20,91.34 L539.70,91.34 L540.20,91.33 L540.70,91.32 L541.20,91.31 L541.70,91.31 L542.20,91.30 L542.70,91.29 L543.20,91.28 L543.70,91.27 L544.20,91.27 L544.70,91.26 L545.20,91.25 L545.70,91.24 L546.20,91.23 L546.70,91.23 L547.20,91.22 L547.70,91.21 L548.20,91.20 L548.70,91.20 L549.20,91.19 L549.70,91.18 L550.20,91.17 L550.70,91.16 L551.20,91.16 L551.70,91.15 L552.20,91.14 L552.70,91.13 L553.20,91.12 L553.70,91.12 L554.20,91.11 L554.70,91.10 L555.20,91.09 L555.70,91.09 L556.20,91.08 L556.70,91.07 L557.20,91.06 L557.70,91.05 L558.20,91.05 L558.70,91.04 L559.20,91.03 L559.70,91.02 L560.20,91.01 L560.70,91.01 L561.20,91.00 L561.70,90.99 L562.20,90.98 L562.70,90.97 L563.20,90.97 L563.70,90.96 L564.20,90.95 L564.70,90.94 L565.20,90.94 L565.70,90.93 L566.20,90.92 L566.70,90.91 L567.20,90.90 L567.70,90.90 L568.20,90.89 L568.70,90.88 L569.20,90.87 L569.70,90.86 L570.20,90.86 L570.70,90.85 L571.20,90.84 L571.70,90.83 L572.20,90.82 L572.70,90.82 L573.20,90.81 L573.70,90.80 L574.20,90.79 L574.70,90.78 L575.20,90.78 L575.70,90.77 L576.20,90.76 L576.70,90.75 L577.20,90.74 L577.70,90.73 L578.20,90.73 L578.70,90.72 L579.20,90.71 L579.70,90.70 L580.20,90.69 L580.70,90.68 L581.20,90.67 L581.70,90.66 L582.20,90.65 L582.70,90.63 L583.20,90.62 L583.70,90.61 L584.20,90.60 L584.70,90.58 L585.20,90.57 L585.70,90.55 L586.20,90.53 L586.70,90.51 L587.20,90.49 L587.70,90.47 L588.20,90.45 L588.70,90.42 L589.20,90.40 L589.70,90.37 L590.20,90.34 L590.70,90.31 L591.20,90.27 L591.70,90.23 L592.20,90.20 L592.70,90.15 L593.20,90.11 L593.70,90.06 L594.20,90.01 L594.70,89.96 L595.20,89.91 L595.70,89.85 L596.20,89.79 L596.70,89.73 L597.20,89.67 L597.70,89.61 L598.20,89.54 L598.70,89.47 L599.20,89.41 L599.70,89.34 L600.20,89.27 L600.70,89.20 L601.20,89.13 L601.70,89.07 L602.20,89.00 L602.70,88.94 L603.20,88.87 L603.70,88.82 L604.20,88.76 L604.70,88.71 L605.20,88.66 L605.70,88.61 L606.20,88.57 L606.70,88.54 L607.20,88.51 L607.70,88.48 L608.20,88.47 L608.70,88.45 L609.20,88.44 L609.70,88.44 L610.20,88.44 L610.70,88.45 L611.20,88.46 L611.70,88.48 L612.20,88.51 L612.70,88.53 L613.20,88.57 L613.70,88.60 L614.20,88.64 L614.70,88.68 L615.20,88.73 L615.70,88.78 L616.20,88.83 L616.70,88.88 L617.20,88.93 L617.70,88.98 L618.20,89.03 L618.70,89.09 L619.20,89.14 L619.70,89.19 L620.20,89.24 L620.70,89.29 L621.20,89.34 L621.70,89.38 L622.20,89.42 L622.70,89.46 L623.20,89.50 L623.70,89.54 L624.20,89.57 L624.70,89.61 L625.20,89.63 L625.70,89.66 L626.20,89.68 L626.70,89.71 L627.20,89.73 L627.70,89.74 L628.20,89.76 L628.70,89.77 L629.20,89.78 L629.70,89.79 L630.20,89.80 L630.70,89.81 L631.20,89.81 L631.70,89.81 L632.20,89.82 L632.70,89.82 L633.20,89.82 L633.70,89.82 L634.20,89.81 L634.70,89.81 L635.20,89.81 L635.70,89.80 L636.20,89.80 L636.70,89.79 L637.20,89.79 L637.70,89.78 L638.20,89.78 L638.70,89.77 L639.20,89.76 L639.70,89.76 L640.20,89.75 L640.70,89.74 L641.20,89.74 L641.70,89.73 L642.20,89.72 L642.70,89.71 L643.20,89.71 L643.70,89.70 L644.20,89.69 L644.70,89.68 L645.20,89.68 L645.70,89.67 L646.20,89.66 L646.70,89.65 L647.20,89.64 L647.70,89.64 L648.20,89.63 L648.70,89.62 L649.20,89.61 L649.70,89.60" fill="none" stroke="#1ec81e" stroke-width="1.6" stroke-linejoin="round" />
<path d="M472.20,183.70 L472.70,183.70 L473.20,183.70 L473.70,183.70 L474.20,183.70 L474.70,183.70 L475.20,183.70 L475.70,183.70 L476.20,183.70 L476.70,183.70 L477.20,183.70 L477.70,183.70 L478.20,183.70 L478.70,183.70 L479.20,183.70 L479.70,183.70 L480.20,183.70 L480.70,183.70 L481.20,183.70 L481.70,183.70 L482.20,183.70 L482.70,183.70 L483.20,183.70 L483.70,183.69 L484.20,183.69 L484.70,183.69 L485.20,183.69 L485.70,183.69 L486.20,183.69 L486.70,183.69 L487.20,183.69 L487.70,183.69 L488.20,183.69 L488.70,183.69 L489.20,183.69 L489.70,183.69 L490.20,183.69 L490.70,183.69 L491.20,183.69 L491.70,183.69 L492.20,183.69 L492.70,183.68 L493.20,183.68 L493.70,183.68 L494.20,183.68 L494.70,183.68 L495.20,183.68 L495.70,183.68 L496.20,183.67 L496.70,183.67 L497.20,183.67 L497.70,183.67 L498.20,183.67 L498.70,183.66 L499.20,183.66 L499.70,183.66 L500.20,183.66 L500.70,183.65 L501.20,183.65 L501.70,183.65 L502.20,183.64 L502.70,183.64 L503.20,183.63 L503.70,183.63 L504.20,183.62 L504.70,183.62 L505.20,183.61 L505.70,183.60 L506.20,183.60 L506.70,183.59 L507.20,183.58 L507.70,183.57 L508.20,183.56 L508.70,183.55 L509.20,183.54 L509.70,183.53 L510.20,183.51 L510.70,183.49 L511.20,183.48 L511.70,183.46 L512.20,183.43 L512.70,183.41 L513.20,183.38 L513.70,183.35 L514.20,183.31 L514.70,183.27 L515.20,183.22 L515.70,183.16 L516.20,183.09 L516.70,183.02 L517.20,182.93 L517.70,182.83 L518.20,182.71 L518.70,182.57 L519.20,182.41 L519.70,182.23 L520.20,182.01 L520.70,181.76 L521.20,181.48 L521.70,181.15 L522.20,180.77 L522.70,180.34 L523.20,179.85 L523.70,179.29 L524.20,178.66 L524.70,177.94 L525.20,177.14 L525.70,176.25 L526.20,175.25 L526.70,174.13 L527.20,172.91 L527.70,171.56 L528.20,170.08 L528.70,168.46 L529.20,166.71 L529.70,164.82 L530.20,162.79 L530.70,160.62 L531.20,158.31 L531.70,155.87 L532.20,153.30 L532.70,150.62 L533.20,147.82 L533.70,144.94 L534.20,141.97 L534.70,138.95 L535.20,135.88 L535.70,132.80 L536.20,129.73 L536.70,126.68 L537.20,123.69 L537.70,120.78 L538.20,117.99 L538.70,115.33 L539.20,112.84 L539.70,110.53 L540.20,108.44 L540.70,106.58 L541.20,104.98 L541.70,103.66 L542.20,102.61 L542.70,101.87 L543.20,101.43 L543.70,101.30 L544.20,101.48 L544.70,101.96 L545.20,102.74 L545.70,103.80 L546.20,105.13 L546.70,106.72 L547.20,108.54 L547.70,110.58 L548.20,112.80 L548.70,115.18 L549.20,117.70 L549.70,120.32 L550.20,123.03 L550.70,125.79 L551.20,128.58 L551.70,131.37 L552.20,134.14 L552.70,136.87 L553.20,139.54 L553.70,142.13 L554.20,144.63 L554.70,147.02 L555.20,149.29 L555.70,151.44 L556.20,153.46 L556.70,155.34 L557.20,157.08 L557.70,158.69 L558.20,160.16 L558.70,161.50 L559.20,162.71 L559.70,163.81 L560.20,164.78 L560.70,165.65 L561.20,166.41 L561.70,167.08 L562.20,167.67 L562.70,168.18 L563.20,168.61 L563.70,168.99 L564.20,169.31 L564.70,169.58 L565.20,169.80 L565.70,170.00 L566.20,170.16 L566.70,170.29 L567.20,170.41 L567.70,170.51 L568.20,170.60 L568.70,170.68 L569.20,170.76 L569.70,170.83 L570.20,170.91 L570.70,170.99 L571.20,171.07 L571.70,171.15 L572.20,171.24 L572.70,171.33 L573.20,171.43 L573.70,171.54 L574.20,171.65 L574.70,171.76 L575.20,171.89 L575.70,172.02 L576.20,172.15 L576.70,172.29 L577.20,172.44 L577.70,172.59 L578.20,172.74 L578.70,172.90 L579.20,173.06 L579.70,173.22 L580.20,173.39 L580.70,173.56 L581.20,173.73 L581.70,173.90 L582.20,174.07 L582.70,174.24 L583.20,174.41 L583.70,174.57 L584.20,174.74 L584.70,174.90 L585.20,175.06 L585.70,175.22 L586.20,175.37 L586.70,175.52 L587.20,175.66 L587.70,175.79 L588.20,175.92 L588.70,176.05 L589.20,176.16 L589.70,176.27 L590.20,176.37 L590.70,176.47 L591.20,176.55 L591.70,176.62 L592.20,176.69 L592.70,176.74 L593.20,176.79 L593.70,176.82 L594.20,176.85 L594.70,176.86 L595.20,176.87 L595.70,176.86 L596.20,176.85 L596.70,176.83 L597.20,176.80 L597.70,176.76 L598.20,176.72 L598.70,176.67 L599.20,176.62 L599.70,176.56 L600.20,176.50 L600.70,176.44 L601.20,176.37 L601.70,176.31 L602.20,176.25 L602.70,176.19 L603.20,176.14 L603.70,176.10 L604.20,176.06 L604.70,176.03 L605.20,176.00 L605.70,175.99 L606.20,175.98 L606.70,175.99 L607.20,176.01 L607.70,176.04 L608.20,176.07 L608.70,176.13 L609.20,176.19 L609.70,176.26 L610.20,176.34 L610.70,176.43 L611.20,176.53 L611.70,176.63 L612.20,176.75 L612.70,176.87 L613.20,176.99 L613.70,177.12 L614.20,177.25 L614.70,177.38 L615.20,177.51 L615.70,177.64 L616.20,177.77 L616.70,177.90 L617.20,178.02 L617.70,178.15 L618.20,178.26 L618.70,178.38 L619.20,178.48 L619.70,178.58 L620.20,178.68 L620.70,178.77 L621.20,178.86 L621.70,178.93 L622.20,179.01 L622.70,179.07 L623.20,179.13 L623.70,179.19 L624.20,179.24 L624.70,179.28 L625.20,179.33 L625.70,179.36 L626.20,179.39 L626.70,179.42 L627.20,179.45 L627.70,179.47 L628.20,179.49 L628.70,179.51 L629.20,179.52 L629.70,179.53 L630.20,179.54 L630.70,179.55 L631.20,179.56 L631.70,179.57 L632.20,179.57 L632.70,179.58 L633.20,179.58 L633.70,179.59 L634.20,179.59 L634.70,179.59 L635.20,179.59 L635.70,179.59 L636.20,179.60 L636.70,179.60 L637.20,179.60 L637.70,179.60 L638.20,179.60 L638.70,179.60 L639.20,179.60 L639.70,179.60 L640.20,179.60 L640.70,179.60 L641.20,179.60 L641.70,179.60 L642.20,179.60 L642.70,179.60 L643.20,179.60 L643.70,179.60 L644.20,179.60 L644.70,179.60 L645.20,179.60 L645.70,179.60 L646.20,179.60 L646.70,179.60 L647.20,179.60 L647.70,179.60 L648.20,179.60 L648.70,179.60 L649.20,179.60 L649.70,179.60" fill="none" stroke="#000" stroke-width="1.5" stroke-linejoin="round" stroke-dasharray="2.2,1.3"/>
<path d="M472.20,183.70 L472.70,183.70 L473.20,183.70 L473.70,183.70 L474.20,183.70 L474.70,183.70 L475.20,183.70 L475.70,183.70 L476.20,183.70 L476.70,183.70 L477.20,183.70 L477.70,183.70 L478.20,183.70 L478.70,183.70 L479.20,183.70 L479.70,183.70 L480.20,183.70 L480.70,183.70 L481.20,183.70 L481.70,183.70 L482.20,183.70 L482.70,183.70 L483.20,183.70 L483.70,183.70 L484.20,183.70 L484.70,183.70 L485.20,183.69 L485.70,183.69 L486.20,183.69 L486.70,183.69 L487.20,183.69 L487.70,183.69 L488.20,183.69 L488.70,183.69 L489.20,183.69 L489.70,183.69 L490.20,183.69 L490.70,183.69 L491.20,183.69 L491.70,183.69 L492.20,183.69 L492.70,183.69 L493.20,183.69 L493.70,183.69 L494.20,183.69 L494.70,183.69 L495.20,183.69 L495.70,183.69 L496.20,183.68 L496.70,183.68 L497.20,183.68 L497.70,183.68 L498.20,183.68 L498.70,183.68 L499.20,183.68 L499.70,183.68 L500.20,183.68 L500.70,183.68 L501.20,183.67 L501.70,183.67 L502.20,183.67 L502.70,183.67 L503.20,183.67 L503.70,183.67 L504.20,183.67 L504.70,183.66 L505.20,183.66 L505.70,183.66 L506.20,183.66 L506.70,183.65 L507.20,183.65 L507.70,183.65 L508.20,183.65 L508.70,183.64 L509.20,183.64 L509.70,183.63 L510.20,183.63 L510.70,183.62 L511.20,183.61 L511.70,183.60 L512.20,183.59 L512.70,183.58 L513.20,183.57 L513.70,183.55 L514.20,183.53 L514.70,183.50 L515.20,183.47 L515.70,183.43 L516.20,183.39 L516.70,183.33 L517.20,183.27 L517.70,183.19 L518.20,183.10 L518.70,182.99 L519.20,182.86 L519.70,182.70 L520.20,182.52 L520.70,182.31 L521.20,182.06 L521.70,181.77 L522.20,181.43 L522.70,181.04 L523.20,180.59 L523.70,180.07 L524.20,179.49 L524.70,178.82 L525.20,178.07 L525.70,177.22 L526.20,176.27 L526.70,175.21 L527.20,174.03 L527.70,172.73 L528.20,171.31 L528.70,169.75 L529.20,168.05 L529.70,166.22 L530.20,164.24 L530.70,162.12 L531.20,159.86 L531.70,157.47 L532.20,154.95 L532.70,152.32 L533.20,149.57 L533.70,146.73 L534.20,143.81 L534.70,140.83 L535.20,137.81 L535.70,134.77 L536.20,131.73 L536.70,128.72 L537.20,125.77 L537.70,122.90 L538.20,120.14 L538.70,117.51 L539.20,115.05 L539.70,112.78 L540.20,110.73 L540.70,108.91 L541.20,107.35 L541.70,106.06 L542.20,105.07 L542.70,104.37 L543.20,103.98 L543.70,103.91 L544.20,104.15 L544.70,104.70 L545.20,105.55 L545.70,106.69 L546.20,108.11 L546.70,109.80 L547.20,111.72 L547.70,113.87 L548.20,116.21 L548.70,118.72 L549.20,121.37 L549.70,124.14 L550.20,127.00 L550.70,129.92 L551.20,132.87 L551.70,135.83 L552.20,138.78 L552.70,141.70 L553.20,144.55 L553.70,147.34 L554.20,150.03 L554.70,152.61 L555.20,155.08 L555.70,157.43 L556.20,159.64 L556.70,161.72 L557.20,163.66 L557.70,165.46 L558.20,167.12 L558.70,168.65 L559.20,170.04 L559.70,171.30 L560.20,172.44 L560.70,173.47 L561.20,174.38 L561.70,175.20 L562.20,175.92 L562.70,176.55 L563.20,177.10 L563.70,177.58 L564.20,178.00 L564.70,178.35 L565.20,178.66 L565.70,178.92 L566.20,179.13 L566.70,179.31 L567.20,179.46 L567.70,179.59 L568.20,179.69 L568.70,179.76 L569.20,179.83 L569.70,179.88 L570.20,179.91 L570.70,179.94 L571.20,179.96 L571.70,179.97 L572.20,179.97 L572.70,179.97 L573.20,179.97 L573.70,179.97 L574.20,179.96 L574.70,179.95 L575.20,179.94 L575.70,179.93 L576.20,179.92 L576.70,179.91 L577.20,179.90 L577.70,179.88 L578.20,179.87 L578.70,179.86 L579.20,179.85 L579.70,179.84 L580.20,179.83 L580.70,179.82 L581.20,179.81 L581.70,179.80 L582.20,179.79 L582.70,179.78 L583.20,179.77 L583.70,179.77 L584.20,179.76 L584.70,179.75 L585.20,179.74 L585.70,179.74 L586.20,179.73 L586.70,179.72 L587.20,179.72 L587.70,179.71 L588.20,179.71 L588.70,179.70 L589.20,179.70 L589.70,179.69 L590.20,179.69 L590.70,179.68 L591.20,179.68 L591.70,179.68 L592.20,179.67 L592.70,179.67 L593.20,179.67 L593.70,179.66 L594.20,179.66 L594.70,179.66 L595.20,179.65 L595.70,179.65 L596.20,179.65 L596.70,179.65 L597.20,179.64 L597.70,179.64 L598.20,179.64 L598.70,179.64 L599.20,179.64 L599.70,179.63 L600.20,179.63 L600.70,179.63 L601.20,179.63 L601.70,179.63 L602.20,179.63 L602.70,179.63 L603.20,179.62 L603.70,179.62 L604.20,179.62 L604.70,179.62 L605.20,179.62 L605.70,179.62 L606.20,179.62 L606.70,179.62 L607.20,179.62 L607.70,179.62 L608.20,179.61 L608.70,179.61 L609.20,179.61 L609.70,179.61 L610.20,179.61 L610.70,179.61 L611.20,179.61 L611.70,179.61 L612.20,179.61 L612.70,179.61 L613.20,179.61 L613.70,179.61 L614.20,179.61 L614.70,179.61 L615.20,179.61 L615.70,179.61 L616.20,179.61 L616.70,179.61 L617.20,179.61 L617.70,179.61 L618.20,179.61 L618.70,179.61 L619.20,179.60 L619.70,179.60 L620.20,179.60 L620.70,179.60 L621.20,179.60 L621.70,179.60 L622.20,179.60 L622.70,179.60 L623.20,179.60 L623.70,179.60 L624.20,179.60 L624.70,179.60 L625.20,179.60 L625.70,179.60 L626.20,179.60 L626.70,179.60 L627.20,179.60 L627.70,179.60 L628.20,179.60 L628.70,179.60 L629.20,179.60 L629.70,179.60 L630.20,179.60 L630.70,179.60 L631.20,179.60 L631.70,179.60 L632.20,179.60 L632.70,179.60 L633.20,179.60 L633.70,179.60 L634.20,179.60 L634.70,179.60 L635.20,179.60 L635.70,179.60 L636.20,179.60 L636.70,179.60 L637.20,179.60 L637.70,179.60 L638.20,179.60 L638.70,179.60 L639.20,179.60 L639.70,179.60 L640.20,179.60 L640.70,179.60 L641.20,179.60 L641.70,179.60 L642.20,179.60 L642.70,179.60 L643.20,179.60 L643.70,179.60 L644.20,179.60 L644.70,179.60 L645.20,179.60 L645.70,179.60 L646.20,179.60 L646.70,179.60 L647.20,179.60 L647.70,179.60 L648.20,179.60 L648.70,179.60 L649.20,179.60 L649.70,179.60" fill="none" stroke="#ff1414" stroke-width="1.6" stroke-linejoin="round" />
<path d="M472.20,183.70 L472.70,183.70 L473.20,183.70 L473.70,183.70 L474.20,183.70 L474.70,183.70 L475.20,183.70 L475.70,183.70 L476.20,183.70 L476.70,183.70 L477.20,183.70 L477.70,183.70 L478.20,183.70 L478.70,183.70 L479.20,183.70 L479.70,183.70 L480.20,183.70 L480.70,183.70 L481.20,183.70 L481.70,183.70 L482.20,183.70 L482.70,183.70 L483.20,183.70 L483.70,183.70 L484.20,183.70 L484.70,183.70 L485.20,183.70 L485.70,183.70 L486.20,183.70 L486.70,183.70 L487.20,183.70 L487.70,183.70 L488.20,183.70 L488.70,183.70 L489.20,183.70 L489.70,183.70 L490.20,183.70 L490.70,183.69 L491.20,183.69 L491.70,183.69 L492.20,183.69 L492.70,183.69 L493.20,183.69 L493.70,183.69 L494.20,183.69 L494.70,183.69 L495.20,183.69 L495.70,183.69 L496.20,183.69 L496.70,183.69 L497.20,183.69 L497.70,183.69 L498.20,183.69 L498.70,183.69 L499.20,183.69 L499.70,183.69 L500.20,183.69 L500.70,183.68 L501.20,183.68 L501.70,183.68 L502.20,183.68 L502.70,183.68 L503.20,183.68 L503.70,183.68 L504.20,183.68 L504.70,183.68 L505.20,183.67 L505.70,183.67 L506.20,183.67 L506.70,183.67 L507.20,183.67 L507.70,183.67 L508.20,183.67 L508.70,183.66 L509.20,183.66 L509.70,183.66 L510.20,183.66 L510.70,183.65 L511.20,183.65 L511.70,183.65 L512.20,183.65 L512.70,183.64 L513.20,183.64 L513.70,183.64 L514.20,183.63 L514.70,183.63 L515.20,183.62 L515.70,183.62 L516.20,183.62 L516.70,183.61 L517.20,183.61 L517.70,183.60 L518.20,183.60 L518.70,183.59 L519.20,183.58 L519.70,183.58 L520.20,183.57 L520.70,183.56 L521.20,183.56 L521.70,183.55 L522.20,183.54 L522.70,183.53 L523.20,183.52 L523.70,183.51 L524.20,183.50 L524.70,183.49 L525.20,183.48 L525.70,183.47 L526.20,183.45 L526.70,183.44 L527.20,183.43 L527.70,183.41 L528.20,183.40 L528.70,183.38 L529.20,183.37 L529.70,183.35 L530.20,183.33 L530.70,183.31 L531.20,183.29 L531.70,183.27 L532.20,183.25 L532.70,183.23 L533.20,183.20 L533.70,183.18 L534.20,183.15 L534.70,183.12 L535.20,183.10 L535.70,183.07 L536.20,183.04 L536.70,183.00 L537.20,182.97 L537.70,182.94 L538.20,182.90 L538.70,182.87 L539.20,182.83 L539.70,182.79 L540.20,182.75 L540.70,182.71 L541.20,182.67 L541.70,182.62 L542.20,182.58 L542.70,182.53 L543.20,182.49 L543.70,182.44 L544.20,182.39 L544.70,182.34 L545.20,182.29 L545.70,182.24 L546.20,182.18 L546.70,182.13 L547.20,182.08 L547.70,182.02 L548.20,181.97 L548.70,181.91 L549.20,181.85 L549.70,181.80 L550.20,181.74 L550.70,181.68 L551.20,181.63 L551.70,181.57 L552.20,181.51 L552.70,181.46 L553.20,181.40 L553.70,181.34 L554.20,181.29 L554.70,181.23 L555.20,181.18 L555.70,181.13 L556.20,181.07 L556.70,181.02 L557.20,180.97 L557.70,180.92 L558.20,180.87 L558.70,180.82 L559.20,180.78 L559.70,180.73 L560.20,180.68 L560.70,180.64 L561.20,180.60 L561.70,180.56 L562.20,180.52 L562.70,180.48 L563.20,180.44 L563.70,180.40 L564.20,180.37 L564.70,180.33 L565.20,180.30 L565.70,180.27 L566.20,180.24 L566.70,180.21 L567.20,180.18 L567.70,180.15 L568.20,180.13 L568.70,180.10 L569.20,180.08 L569.70,180.06 L570.20,180.03 L570.70,180.01 L571.20,179.99 L571.70,179.97 L572.20,179.95 L572.70,179.94 L573.20,179.92 L573.70,179.90 L574.20,179.89 L574.70,179.87 L575.20,179.86 L575.70,179.85 L576.20,179.83 L576.70,179.82 L577.20,179.81 L577.70,179.80 L578.20,179.79 L578.70,179.77 L579.20,179.76 L579.70,179.75 L580.20,179.74 L580.70,179.73 L581.20,179.72 L581.70,179.71 L582.20,179.70 L582.70,179.69 L583.20,179.68 L583.70,179.66 L584.20,179.65 L584.70,179.63 L585.20,179.62 L585.70,179.60 L586.20,179.58 L586.70,179.56 L587.20,179.53 L587.70,179.50 L588.20,179.47 L588.70,179.44 L589.20,179.40 L589.70,179.36 L590.20,179.32 L590.70,179.27 L591.20,179.21 L591.70,179.15 L592.20,179.09 L592.70,179.02 L593.20,178.94 L593.70,178.86 L594.20,178.77 L594.70,178.68 L595.20,178.58 L595.70,178.48 L596.20,178.37 L596.70,178.25 L597.20,178.14 L597.70,178.02 L598.20,177.89 L598.70,177.77 L599.20,177.64 L599.70,177.52 L600.20,177.39 L600.70,177.27 L601.20,177.15 L601.70,177.03 L602.20,176.92 L602.70,176.82 L603.20,176.72 L603.70,176.63 L604.20,176.55 L604.70,176.48 L605.20,176.42 L605.70,176.37 L606.20,176.34 L606.70,176.32 L607.20,176.31 L607.70,176.31 L608.20,176.33 L608.70,176.36 L609.20,176.40 L609.70,176.45 L610.20,176.52 L610.70,176.59 L611.20,176.67 L611.70,176.77 L612.20,176.87 L612.70,176.98 L613.20,177.09 L613.70,177.21 L614.20,177.33 L614.70,177.45 L615.20,177.58 L615.70,177.70 L616.20,177.83 L616.70,177.95 L617.20,178.07 L617.70,178.18 L618.20,178.30 L618.70,178.41 L619.20,178.51 L619.70,178.61 L620.20,178.70 L620.70,178.79 L621.20,178.87 L621.70,178.95 L622.20,179.02 L622.70,179.08 L623.20,179.14 L623.70,179.20 L624.20,179.25 L624.70,179.29 L625.20,179.33 L625.70,179.37 L626.20,179.40 L626.70,179.43 L627.20,179.45 L627.70,179.47 L628.20,179.49 L628.70,179.51 L629.20,179.52 L629.70,179.54 L630.20,179.55 L630.70,179.55 L631.20,179.56 L631.70,179.57 L632.20,179.57 L632.70,179.58 L633.20,179.58 L633.70,179.59 L634.20,179.59 L634.70,179.59 L635.20,179.59 L635.70,179.59 L636.20,179.60 L636.70,179.60 L637.20,179.60 L637.70,179.60 L638.20,179.60 L638.70,179.60 L639.20,179.60 L639.70,179.60 L640.20,179.60 L640.70,179.60 L641.20,179.60 L641.70,179.60 L642.20,179.60 L642.70,179.60 L643.20,179.60 L643.70,179.60 L644.20,179.60 L644.70,179.60 L645.20,179.60 L645.70,179.60 L646.20,179.60 L646.70,179.60 L647.20,179.60 L647.70,179.60 L648.20,179.60 L648.70,179.60 L649.20,179.60 L649.70,179.60" fill="none" stroke="#1ec81e" stroke-width="1.6" stroke-linejoin="round" />
<path d="M472.20,183.70 L472.70,183.70 L473.20,183.70 L473.70,183.70 L474.20,183.70 L474.70,183.70 L475.20,183.70 L475.70,183.70 L476.20,183.70 L476.70,183.70 L477.20,183.70 L477.70,183.70 L478.20,183.70 L478.70,183.70 L479.20,183.70 L479.70,183.70 L480.20,183.70 L480.70,183.70 L481.20,183.70 L481.70,183.70 L482.20,183.70 L482.70,183.70 L483.20,183.70 L483.70,183.70 L484.20,183.69 L484.70,183.69 L485.20,183.69 L485.70,183.69 L486.20,183.69 L486.70,183.69 L487.20,183.69 L487.70,183.69 L488.20,183.69 L488.70,183.69 L489.20,183.69 L489.70,183.69 L490.20,183.69 L490.70,183.69 L491.20,183.69 L491.70,183.69 L492.20,183.69 L492.70,183.68 L493.20,183.68 L493.70,183.68 L494.20,183.68 L494.70,183.68 L495.20,183.68 L495.70,183.68 L496.20,183.68 L496.70,183.67 L497.20,183.67 L497.70,183.67 L498.20,183.67 L498.70,183.67 L499.20,183.66 L499.70,183.66 L500.20,183.66 L500.70,183.65 L501.20,183.65 L501.70,183.65 L502.20,183.64 L502.70,183.64 L503.20,183.64 L503.70,183.63 L504.20,183.63 L504.70,183.62 L505.20,183.61 L505.70,183.61 L506.20,183.60 L506.70,183.59 L507.20,183.59 L507.70,183.58 L508.20,183.57 L508.70,183.56 L509.20,183.55 L509.70,183.54 L510.20,183.53 L510.70,183.52 L511.20,183.50 L511.70,183.49 L512.20,183.47 L512.70,183.46 L513.20,183.44 L513.70,183.43 L514.20,183.41 L514.70,183.39 L515.20,183.37 L515.70,183.34 L516.20,183.32 L516.70,183.29 L517.20,183.27 L517.70,183.24 L518.20,183.21 L518.70,183.18 L519.20,183.15 L519.70,183.11 L520.20,183.07 L520.70,183.04 L521.20,182.99 L521.70,182.95 L522.20,182.91 L522.70,182.86 L523.20,182.81 L523.70,182.76 L524.20,182.70 L524.70,182.64 L525.20,182.58 L525.70,182.52 L526.20,182.46 L526.70,182.39 L527.20,182.32 L527.70,182.24 L528.20,182.16 L528.70,182.08 L529.20,182.00 L529.70,181.91 L530.20,181.82 L530.70,181.72 L531.20,181.63 L531.70,181.52 L532.20,181.42 L532.70,181.31 L533.20,181.20 L533.70,181.08 L534.20,180.96 L534.70,180.84 L535.20,180.71 L535.70,180.58 L536.20,180.44 L536.70,180.30 L537.20,180.16 L537.70,180.01 L538.20,179.86 L538.70,179.71 L539.20,179.55 L539.70,179.39 L540.20,179.23 L540.70,179.06 L541.20,178.89 L541.70,178.72 L542.20,178.54 L542.70,178.36 L543.20,178.18 L543.70,178.00 L544.20,177.81 L544.70,177.62 L545.20,177.43 L545.70,177.24 L546.20,177.05 L546.70,176.85 L547.20,176.66 L547.70,176.46 L548.20,176.26 L548.70,176.07 L549.20,175.87 L549.70,175.67 L550.20,175.48 L550.70,175.28 L551.20,175.09 L551.70,174.90 L552.20,174.71 L552.70,174.52 L553.20,174.33 L553.70,174.15 L554.20,173.97 L554.70,173.79 L555.20,173.61 L555.70,173.44 L556.20,173.28 L556.70,173.12 L557.20,172.96 L557.70,172.81 L558.20,172.66 L558.70,172.52 L559.20,172.38 L559.70,172.25 L560.20,172.13 L560.70,172.01 L561.20,171.90 L561.70,171.79 L562.20,171.69 L562.70,171.60 L563.20,171.52 L563.70,171.44 L564.20,171.37 L564.70,171.31 L565.20,171.25 L565.70,171.20 L566.20,171.16 L566.70,171.13 L567.20,171.10 L567.70,171.09 L568.20,171.09 L568.70,171.10 L569.20,171.11 L569.70,171.14 L570.20,171.18 L570.70,171.23 L571.20,171.29 L571.70,171.35 L572.20,171.43 L572.70,171.52 L573.20,171.61 L573.70,171.71 L574.20,171.82 L574.70,171.94 L575.20,172.06 L575.70,172.19 L576.20,172.33 L576.70,172.47 L577.20,172.62 L577.70,172.77 L578.20,172.93 L578.70,173.09 L579.20,173.25 L579.70,173.42 L580.20,173.59 L580.70,173.76 L581.20,173.93 L581.70,174.11 L582.20,174.28 L582.70,174.46 L583.20,174.63 L583.70,174.81 L584.20,174.98 L584.70,175.15 L585.20,175.33 L585.70,175.50 L586.20,175.66 L586.70,175.83 L587.20,175.99 L587.70,176.15 L588.20,176.31 L588.70,176.46 L589.20,176.61 L589.70,176.76 L590.20,176.91 L590.70,177.04 L591.20,177.18 L591.70,177.31 L592.20,177.44 L592.70,177.56 L593.20,177.68 L593.70,177.80 L594.20,177.91 L594.70,178.02 L595.20,178.12 L595.70,178.22 L596.20,178.31 L596.70,178.40 L597.20,178.49 L597.70,178.57 L598.20,178.65 L598.70,178.72 L599.20,178.79 L599.70,178.86 L600.20,178.92 L600.70,178.98 L601.20,179.04 L601.70,179.09 L602.20,179.14 L602.70,179.19 L603.20,179.24 L603.70,179.28 L604.20,179.32 L604.70,179.35 L605.20,179.39 L605.70,179.42 L606.20,179.45 L606.70,179.48 L607.20,179.51 L607.70,179.53 L608.20,179.55 L608.70,179.57 L609.20,179.59 L609.70,179.61 L610.20,179.63 L610.70,179.64 L611.20,179.66 L611.70,179.67 L612.20,179.68 L612.70,179.69 L613.20,179.70 L613.70,179.71 L614.20,179.72 L614.70,179.73 L615.20,179.74 L615.70,179.74 L616.20,179.75 L616.70,179.75 L617.20,179.76 L617.70,179.76 L618.20,179.77 L618.70,179.77 L619.20,179.77 L619.70,179.78 L620.20,179.78 L620.70,179.78 L621.20,179.78 L621.70,179.79 L622.20,179.79 L622.70,179.79 L623.20,179.79 L623.70,179.79 L624.20,179.79 L624.70,179.79 L625.20,179.79 L625.70,179.80 L626.20,179.80 L626.70,179.80 L627.20,179.80 L627.70,179.80 L628.20,179.80 L628.70,179.80 L629.20,179.80 L629.70,179.80 L630.20,179.80 L630.70,179.80 L631.20,179.80 L631.70,179.80 L632.20,179.80 L632.70,179.80 L633.20,179.80 L633.70,179.80 L634.20,179.80 L634.70,179.80 L635.20,179.80 L635.70,179.80 L636.20,179.80 L636.70,179.80 L637.20,179.80 L637.70,179.80 L638.20,179.80 L638.70,179.80 L639.20,179.80 L639.70,179.80 L640.20,179.80 L640.70,179.80 L641.20,179.80 L641.70,179.80 L642.20,179.80 L642.70,179.80 L643.20,179.80 L643.70,179.80 L644.20,179.80 L644.70,179.80 L645.20,179.80 L645.70,179.80 L646.20,179.80 L646.70,179.80 L647.20,179.80 L647.70,179.80 L648.20,179.80 L648.70,179.80 L649.20,179.80 L649.70,179.80" fill="none" stroke="#2848fa" stroke-width="1.5" stroke-linejoin="round" />
<path d="M472.20,274.60 L472.70,274.60 L473.20,274.60 L473.70,274.60 L474.20,274.60 L474.70,274.60 L475.20,274.60 L475.70,274.60 L476.20,274.60 L476.70,274.60 L477.20,274.60 L477.70,274.60 L478.20,274.60 L478.70,274.60 L479.20,274.60 L479.70,274.60 L480.20,274.60 L480.70,274.60 L481.20,274.60 L481.70,274.60 L482.20,274.60 L482.70,274.60 L483.20,274.60 L483.70,274.60 L484.20,274.60 L484.70,274.60 L485.20,274.60 L485.70,274.60 L486.20,274.60 L486.70,274.60 L487.20,274.60 L487.70,274.60 L488.20,274.60 L488.70,274.60 L489.20,274.60 L489.70,274.60 L490.20,274.60 L490.70,274.60 L491.20,274.60 L491.70,274.60 L492.20,274.60 L492.70,274.60 L493.20,274.60 L493.70,274.60 L494.20,274.60 L494.70,274.60 L495.20,274.60 L495.70,274.60 L496.20,274.60 L496.70,274.60 L497.20,274.60 L497.70,274.60 L498.20,274.60 L498.70,274.60 L499.20,274.60 L499.70,274.60 L500.20,274.60 L500.70,274.60 L501.20,274.60 L501.70,274.60 L502.20,274.60 L502.70,274.60 L503.20,274.60 L503.70,274.60 L504.20,274.60 L504.70,274.60 L505.20,274.60 L505.70,274.60 L506.20,274.60 L506.70,274.60 L507.20,274.60 L507.70,274.60 L508.20,274.60 L508.70,274.60 L509.20,274.60 L509.70,274.59 L510.20,274.59 L510.70,274.59 L511.20,274.59 L511.70,274.58 L512.20,274.58 L512.70,274.57 L513.20,274.56 L513.70,274.55 L514.20,274.54 L514.70,274.53 L515.20,274.51 L515.70,274.48 L516.20,274.45 L516.70,274.42 L517.20,274.37 L517.70,274.32 L518.20,274.25 L518.70,274.17 L519.20,274.07 L519.70,273.96 L520.20,273.82 L520.70,273.65 L521.20,273.46 L521.70,273.23 L522.20,272.96 L522.70,272.65 L523.20,272.29 L523.70,271.87 L524.20,271.38 L524.70,270.83 L525.20,270.19 L525.70,269.48 L526.20,268.67 L526.70,267.76 L527.20,266.74 L527.70,265.60 L528.20,264.35 L528.70,262.97 L529.20,261.45 L529.70,259.80 L530.20,258.01 L530.70,256.07 L531.20,254.00 L531.70,251.78 L532.20,249.44 L532.70,246.96 L533.20,244.36 L533.70,241.66 L534.20,238.86 L534.70,235.97 L535.20,233.03 L535.70,230.05 L536.20,227.04 L536.70,224.04 L537.20,221.08 L537.70,218.17 L538.20,215.34 L538.70,212.63 L539.20,210.06 L539.70,207.65 L540.20,205.44 L540.70,203.45 L541.20,201.70 L541.70,200.21 L542.20,199.00 L542.70,198.09 L543.20,197.48 L543.70,197.18 L544.20,197.20 L544.70,197.54 L545.20,198.18 L545.70,199.13 L546.20,200.36 L546.70,201.88 L547.20,203.65 L547.70,205.65 L548.20,207.87 L548.70,210.28 L549.20,212.85 L549.70,215.56 L550.20,218.37 L550.70,221.26 L551.20,224.20 L551.70,227.16 L552.20,230.12 L552.70,233.06 L553.20,235.95 L553.70,238.77 L554.20,241.51 L554.70,244.15 L555.20,246.68 L555.70,249.08 L556.20,251.35 L556.70,253.49 L557.20,255.48 L557.70,257.33 L558.20,259.04 L558.70,260.61 L559.20,262.04 L559.70,263.34 L560.20,264.51 L560.70,265.57 L561.20,266.50 L561.70,267.33 L562.20,268.07 L562.70,268.71 L563.20,269.27 L563.70,269.75 L564.20,270.16 L564.70,270.51 L565.20,270.81 L565.70,271.06 L566.20,271.27 L566.70,271.44 L567.20,271.58 L567.70,271.69 L568.20,271.78 L568.70,271.85 L569.20,271.90 L569.70,271.94 L570.20,271.97 L570.70,271.99 L571.20,272.00 L571.70,272.01 L572.20,272.02 L572.70,272.02 L573.20,272.03 L573.70,272.03 L574.20,272.03 L574.70,272.03 L575.20,272.04 L575.70,272.05 L576.20,272.06 L576.70,272.07 L577.20,272.08 L577.70,272.10 L578.20,272.12 L578.70,272.14 L579.20,272.17 L579.70,272.20 L580.20,272.23 L580.70,272.26 L581.20,272.29 L581.70,272.33 L582.20,272.37 L582.70,272.42 L583.20,272.46 L583.70,272.51 L584.20,272.55 L584.70,272.60 L585.20,272.65 L585.70,272.70 L586.20,272.76 L586.70,272.81 L587.20,272.86 L587.70,272.92 L588.20,272.97 L588.70,273.03 L589.20,273.08 L589.70,273.13 L590.20,273.19 L590.70,273.24 L591.20,273.30 L591.70,273.35 L592.20,273.40 L592.70,273.45 L593.20,273.50 L593.70,273.55 L594.20,273.60 L594.70,273.65 L595.20,273.69 L595.70,273.74 L596.20,273.78 L596.70,273.82 L597.20,273.86 L597.70,273.90 L598.20,273.94 L598.70,273.98 L599.20,274.01 L599.70,274.05 L600.20,274.08 L600.70,274.12 L601.20,274.15 L601.70,274.18 L602.20,274.21 L602.70,274.24 L603.20,274.27 L603.70,274.29 L604.20,274.32 L604.70,274.34 L605.20,274.37 L605.70,274.39 L606.20,274.41 L606.70,274.43 L607.20,274.45 L607.70,274.47 L608.20,274.48 L608.70,274.50 L609.20,274.51 L609.70,274.53 L610.20,274.54 L610.70,274.55 L611.20,274.57 L611.70,274.58 L612.20,274.59 L612.70,274.60 L613.20,274.61 L613.70,274.62 L614.20,274.63 L614.70,274.63 L615.20,274.64 L615.70,274.65 L616.20,274.66 L616.70,274.66 L617.20,274.67 L617.70,274.68 L618.20,274.68 L618.70,274.69 L619.20,274.69 L619.70,274.70 L620.20,274.70 L620.70,274.71 L621.20,274.71 L621.70,274.72 L622.20,274.72 L622.70,274.73 L623.20,274.73 L623.70,274.73 L624.20,274.74 L624.70,274.74 L625.20,274.75 L625.70,274.75 L626.20,274.75 L626.70,274.76 L627.20,274.76 L627.70,274.76 L628.20,274.77 L628.70,274.77 L629.20,274.77 L629.70,274.78 L630.20,274.78 L630.70,274.78 L631.20,274.79 L631.70,274.79 L632.20,274.79 L632.70,274.80 L633.20,274.80 L633.70,274.80 L634.20,274.80 L634.70,274.81 L635.20,274.81 L635.70,274.81 L636.20,274.82 L636.70,274.82 L637.20,274.82 L637.70,274.83 L638.20,274.83 L638.70,274.83 L639.20,274.84 L639.70,274.84 L640.20,274.84 L640.70,274.84 L641.20,274.85 L641.70,274.85 L642.20,274.85 L642.70,274.86 L643.20,274.86 L643.70,274.86 L644.20,274.87 L644.70,274.87 L645.20,274.87 L645.70,274.87 L646.20,274.88 L646.70,274.88 L647.20,274.88 L647.70,274.89 L648.20,274.89 L648.70,274.89 L649.20,274.90 L649.70,274.90" fill="none" stroke="#000" stroke-width="1.5" stroke-linejoin="round" stroke-dasharray="2.2,1.3"/>
<path d="M472.20,274.60 L472.70,274.60 L473.20,274.60 L473.70,274.60 L474.20,274.60 L474.70,274.60 L475.20,274.60 L475.70,274.60 L476.20,274.60 L476.70,274.60 L477.20,274.60 L477.70,274.60 L478.20,274.60 L478.70,274.60 L479.20,274.60 L479.70,274.60 L480.20,274.60 L480.70,274.60 L481.20,274.60 L481.70,274.60 L482.20,274.60 L482.70,274.60 L483.20,274.60 L483.70,274.60 L484.20,274.60 L484.70,274.60 L485.20,274.60 L485.70,274.60 L486.20,274.60 L486.70,274.60 L487.20,274.60 L487.70,274.60 L488.20,274.60 L488.70,274.60 L489.20,274.60 L489.70,274.60 L490.20,274.60 L490.70,274.60 L491.20,274.60 L491.70,274.60 L492.20,274.60 L492.70,274.60 L493.20,274.60 L493.70,274.60 L494.20,274.60 L494.70,274.60 L495.20,274.60 L495.70,274.60 L496.20,274.60 L496.70,274.60 L497.20,274.60 L497.70,274.60 L498.20,274.60 L498.70,274.60 L499.20,274.60 L499.70,274.60 L500.20,274.60 L500.70,274.60 L501.20,274.60 L501.70,274.60 L502.20,274.60 L502.70,274.60 L503.20,274.60 L503.70,274.60 L504.20,274.60 L504.70,274.60 L505.20,274.60 L505.70,274.60 L506.20,274.60 L506.70,274.60 L507.20,274.60 L507.70,274.60 L508.20,274.60 L508.70,274.60 L509.20,274.60 L509.70,274.59 L510.20,274.59 L510.70,274.59 L511.20,274.59 L511.70,274.58 L512.20,274.58 L512.70,274.57 L513.20,274.57 L513.70,274.56 L514.20,274.55 L514.70,274.53 L515.20,274.51 L515.70,274.49 L516.20,274.46 L516.70,274.42 L517.20,274.38 L517.70,274.33 L518.20,274.26 L518.70,274.18 L519.20,274.09 L519.70,273.97 L520.20,273.84 L520.70,273.68 L521.20,273.48 L521.70,273.26 L522.20,272.99 L522.70,272.68 L523.20,272.32 L523.70,271.91 L524.20,271.43 L524.70,270.88 L525.20,270.25 L525.70,269.54 L526.20,268.73 L526.70,267.83 L527.20,266.82 L527.70,265.69 L528.20,264.44 L528.70,263.07 L529.20,261.56 L529.70,259.92 L530.20,258.13 L530.70,256.21 L531.20,254.14 L531.70,251.94 L532.20,249.60 L532.70,247.14 L533.20,244.55 L533.70,241.85 L534.20,239.06 L534.70,236.19 L535.20,233.26 L535.70,230.29 L536.20,227.30 L536.70,224.31 L537.20,221.36 L537.70,218.46 L538.20,215.64 L538.70,212.94 L539.20,210.38 L539.70,207.99 L540.20,205.79 L540.70,203.81 L541.20,202.08 L541.70,200.60 L542.20,199.41 L542.70,198.51 L543.20,197.91 L543.70,197.63 L544.20,197.66 L544.70,198.00 L545.20,198.66 L545.70,199.62 L546.20,200.88 L546.70,202.40 L547.20,204.19 L547.70,206.22 L548.20,208.45 L548.70,210.88 L549.20,213.47 L549.70,216.20 L550.20,219.03 L550.70,221.94 L551.20,224.91 L551.70,227.90 L552.20,230.89 L552.70,233.85 L553.20,236.77 L553.70,239.63 L554.20,242.40 L554.70,245.08 L555.20,247.64 L555.70,250.08 L556.20,252.39 L556.70,254.57 L557.20,256.61 L557.70,258.50 L558.20,260.26 L558.70,261.87 L559.20,263.35 L559.70,264.70 L560.20,265.93 L560.70,267.03 L561.20,268.02 L561.70,268.90 L562.20,269.69 L562.70,270.38 L563.20,270.99 L563.70,271.53 L564.20,272.00 L564.70,272.40 L565.20,272.75 L565.70,273.05 L566.20,273.31 L566.70,273.53 L567.20,273.71 L567.70,273.87 L568.20,274.00 L568.70,274.11 L569.20,274.20 L569.70,274.28 L570.20,274.34 L570.70,274.39 L571.20,274.43 L571.70,274.47 L572.20,274.49 L572.70,274.52 L573.20,274.53 L573.70,274.55 L574.20,274.56 L574.70,274.57 L575.20,274.58 L575.70,274.58 L576.20,274.59 L576.70,274.59 L577.20,274.59 L577.70,274.59 L578.20,274.60 L578.70,274.60 L579.20,274.60 L579.70,274.60 L580.20,274.60 L580.70,274.60 L581.20,274.60 L581.70,274.60 L582.20,274.60 L582.70,274.60 L583.20,274.60 L583.70,274.60 L584.20,274.60 L584.70,274.60 L585.20,274.60 L585.70,274.59 L586.20,274.58 L586.70,274.57 L587.20,274.56 L587.70,274.55 L588.20,274.55 L588.70,274.54 L589.20,274.53 L589.70,274.52 L590.20,274.51 L590.70,274.50 L591.20,274.50 L591.70,274.49 L592.20,274.48 L592.70,274.47 L593.20,274.46 L593.70,274.45 L594.20,274.44 L594.70,274.44 L595.20,274.43 L595.70,274.42 L596.20,274.41 L596.70,274.40 L597.20,274.39 L597.70,274.39 L598.20,274.38 L598.70,274.37 L599.20,274.36 L599.70,274.35 L600.20,274.34 L600.70,274.33 L601.20,274.33 L601.70,274.32 L602.20,274.31 L602.70,274.30 L603.20,274.29 L603.70,274.28 L604.20,274.28 L604.70,274.27 L605.20,274.26 L605.70,274.25 L606.20,274.24 L606.70,274.23 L607.20,274.22 L607.70,274.22 L608.20,274.21 L608.70,274.20 L609.20,274.19 L609.70,274.18 L610.20,274.17 L610.70,274.17 L611.20,274.16 L611.70,274.15 L612.20,274.14 L612.70,274.13 L613.20,274.12 L613.70,274.11 L614.20,274.11 L614.70,274.10 L615.20,274.09 L615.70,274.08 L616.20,274.07 L616.70,274.06 L617.20,274.06 L617.70,274.05 L618.20,274.04 L618.70,274.03 L619.20,274.02 L619.70,274.01 L620.20,274.00 L620.70,274.00 L621.20,273.99 L621.70,273.98 L622.20,273.97 L622.70,273.96 L623.20,273.95 L623.70,273.95 L624.20,273.94 L624.70,273.93 L625.20,273.92 L625.70,273.91 L626.20,273.90 L626.70,273.89 L627.20,273.89 L627.70,273.88 L628.20,273.87 L628.70,273.86 L629.20,273.85 L629.70,273.84 L630.20,273.84 L630.70,273.83 L631.20,273.82 L631.70,273.81 L632.20,273.80 L632.70,273.79 L633.20,273.78 L633.70,273.78 L634.20,273.77 L634.70,273.76 L635.20,273.75 L635.70,273.74 L636.20,273.73 L636.70,273.73 L637.20,273.72 L637.70,273.71 L638.20,273.70 L638.70,273.69 L639.20,273.68 L639.70,273.67 L640.20,273.67 L640.70,273.66 L641.20,273.65 L641.70,273.64 L642.20,273.63 L642.70,273.62 L643.20,273.62 L643.70,273.61 L644.20,273.60 L644.70,273.59 L645.20,273.58 L645.70,273.57 L646.20,273.56 L646.70,273.56 L647.20,273.55 L647.70,273.54 L648.20,273.53 L648.70,273.52 L649.20,273.51 L649.70,273.51" fill="none" stroke="#ff1414" stroke-width="1.6" stroke-linejoin="round" />
<rect x="472.2" y="6.5" width="177.8" height="272.5" fill="none" stroke="#000" stroke-width="1.55"/>
<line x1="472.2" y1="97.3" x2="650.0" y2="97.3" stroke="#000" stroke-width="1.55" />
<line x1="472.2" y1="188.2" x2="650.0" y2="188.2" stroke="#000" stroke-width="1.55" />
<text transform="translate(524.3,21.2) scale(1,1.0)" font-size="13.0" text-anchor="middle" fill="#000" stroke="#000" >C-C</text>
<text transform="translate(525.9,111.9) scale(1,1.0)" font-size="13.0" text-anchor="middle" fill="#000" stroke="#000" >C-C</text>
<text transform="translate(526.5,203.7) scale(1,1.0)" font-size="13.0" text-anchor="middle" fill="#000" stroke="#000" >C-C</text>
<text transform="translate(646.1,22.6) scale(1,1.03)" font-size="14.6" text-anchor="end" fill="#000" stroke="#000" >DLC</text>
<text transform="translate(646.1,113.5) scale(1,1.03)" font-size="14.7" text-anchor="end" fill="#000" stroke="#000" >DLC-<tspan fill="#2848fa" stroke="#2848fa">OH</tspan></text>
<text transform="translate(646.5,204.7) scale(1,1.03)" font-size="14.6" text-anchor="end" fill="#000" stroke="#000" >DLC-<tspan fill="#ff1414" stroke="#ff1414">OTS</tspan></text>
<text transform="translate(576.1,77.2) scale(1,1.1)" font-size="13.0" text-anchor="middle" fill="#000" stroke="#000" >C-O</text>
<text transform="translate(577.5,167.8) scale(1,1.12)" font-size="13.0" text-anchor="middle" fill="#000" stroke="#000" >C-O</text>
<text transform="translate(611.1,83.6) scale(1,1.03)" font-size="12.6" text-anchor="middle" fill="#000" stroke="#000" >C=O</text>
<text transform="translate(609.0,172.9) scale(1,1.0)" font-size="12.6" text-anchor="middle" fill="#000" stroke="#000" >C=O</text>
</svg></body></html>
